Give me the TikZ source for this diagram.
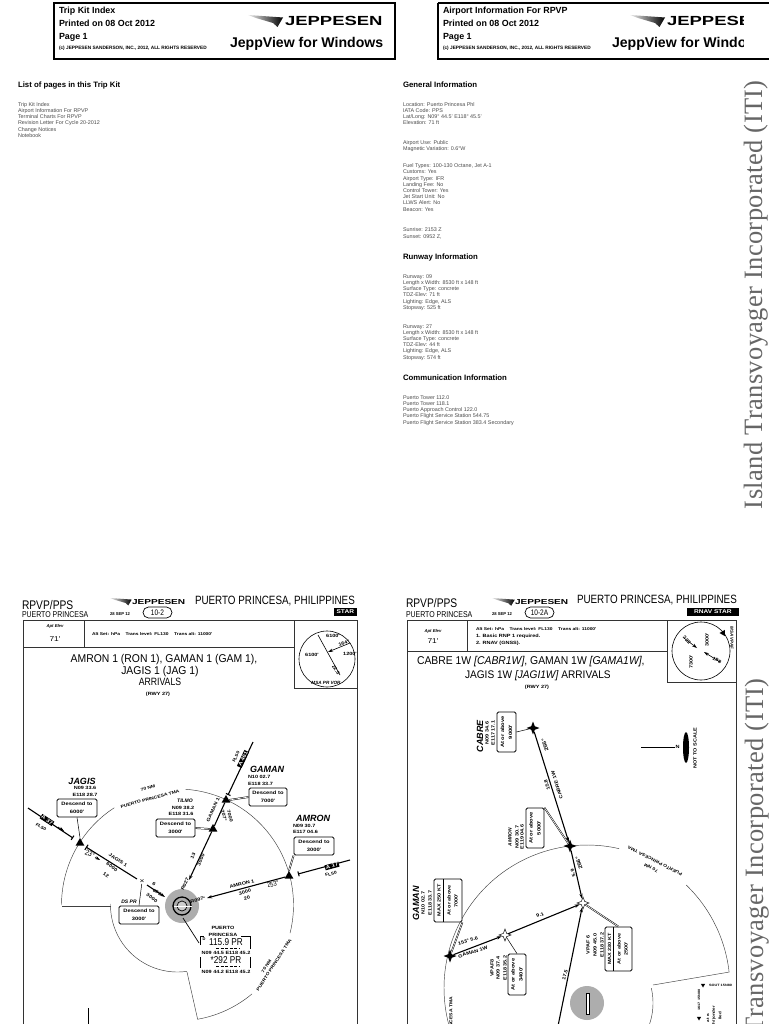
\documentclass[tikz,border=0pt]{standalone}
\usepackage{fontspec}
\usetikzlibrary{shapes.geometric,shapes.misc,arrows.meta}
\setmainfont{Liberation Sans}
\newfontfamily\serf[LetterSpace=1.4]{Liberation Serif}
\newfontfamily\narrowf[FakeStretch=0.82]{Liberation Sans}
\newfontfamily\titlef[FakeStretch=0.92]{Liberation Sans}
\newfontfamily\widef[FakeStretch=1.2]{Liberation Sans}
\newfontfamily\jepf[FakeStretch=1.4]{Liberation Sans}
\newcommand\F[1]{\fontsize{#1}{#1}\selectfont}
\definecolor{bodyg}{gray}{0.3}
\definecolor{sideg}{gray}{0.4}
\definecolor{vorg}{gray}{0.68}
\tikzset{
  txt/.style={inner sep=0pt,outer sep=0pt,anchor=base west},
  mid/.style={inner sep=0pt,outer sep=0pt,anchor=center},
  tiny/.style={mid,font=\widef\bfseries\F{4.6}},
  arcl/.style={mid,font=\widef\bfseries\F{4.2}},
  fixn/.style={mid,font=\bfseries\itshape\F{9}},
  rt/.style={line width=1.1pt},
  thinl/.style={line width=0.45pt,draw=black!75},
  frame/.style={line width=0.9pt,draw=black!80},
  tri/.style={regular polygon,regular polygon sides=3,fill=black,inner sep=0pt,minimum size=10pt},
  fixstar/.style={star,star points=4,star point ratio=2.6,fill=black,inner sep=0pt,minimum size=13pt},
  wpt/.style={star,star points=4,star point ratio=2.6,draw=black,fill=white,inner sep=0pt,minimum size=12pt,line width=.5pt},
  dbox/.style={draw=black,line width=.8pt,rounded corners=1.5pt,fill=white,inner sep=0pt,align=center,font=\widef\bfseries\fontsize{4.8}{8}\selectfont},
  airw/.style={fill=black,text=white,inner sep=.8pt,font=\widef\bfseries\F{5}},
  head/.style={line width=1.7pt,draw=black},
  arr/.style={-{Stealth[length=5pt,width=3.2pt]}},
  barr/.style={{Bar[width=6pt,length=.6pt]}-},
  hb/.style={txt,font=\bfseries\F{8.9}},
  sh/.style={txt,font=\bfseries\F{7.8}},
  sw/.style={left color=gray!15,right color=black,draw=none},
}
\newcommand\swoosh[3]{%
  \begin{scope}[shift={(#1,#2)},scale=#3]
    \shade[sw] (0,0) -- (35,2.5) -- (29.5,12) -- (25,8) -- (8,3) -- cycle;
  \end{scope}}
\begin{document}
\begin{tikzpicture}[x=1pt,y=-1pt]
\useasboundingbox (0,0) rectangle (768,1024);
\fill[white] (0,0) rectangle (768,1024);

%%% ---- top left page
\draw[head] (54,3) rectangle (395,59);
\node[hb] (a1) at (59,14) {Trip Kit Index};
\node[hb] (a2) at (59,27) {Printed on 08 Oct 2012};
\node[hb] (a3) at (59,40) {Page 1};
\node[txt,font=\bfseries\F{4.75}] (a4) at (59,49.5) {(c) JEPPESEN SANDERSON, INC., 2012, ALL RIGHTS RESERVED};
\swoosh{248}{15}{1}
\node[txt,font=\jepf\bfseries\F{13.2}] (a5) at (285,26) {JEPPESEN};
\node[txt,font=\bfseries\F{14.1}] (a6) at (230,47.5) {JeppView for Windows};
\node[sh] (a7) at (18,88) {List of pages in this Trip Kit};
\foreach \t/\y [count=\i] in {Trip Kit Index/107,Airport Information For RPVP/113,Terminal Charts For RPVP/119,Revision Letter For Cycle 20-2012/125,Change Notices/131.5,Notebook/138}
  \node[txt,text=bodyg,font=\F{5.4}] (li\i) at (18,\y) {\t};

%%% ---- top right page
\draw[head] (438,3) -- (770,3) (438,3) -- (438,59) -- (770,59);
\node[hb] (b1) at (443,14) {Airport Information For RPVP};
\node[hb] (b2) at (443,27) {Printed on 08 Oct 2012};
\node[hb] (b3) at (443,40) {Page 1};
\node[txt,font=\bfseries\F{4.75}] (b4) at (443,49.5) {(c) JEPPESEN SANDERSON, INC., 2012, ALL RIGHTS RESERVED};
\begin{scope}
  \clip (440,5) rectangle (743,57);
  \swoosh{630}{15}{1}
  \node[txt,font=\jepf\bfseries\F{13.2}] (b5) at (667,26) {JEPPESEN};
  \node[txt,font=\bfseries\F{14.1}] (b6) at (612,47.5) {JeppView for Windows};
\end{scope}
\node[sh] (g0) at (403,88) {General Information};
\node[sh] (g1) at (403,259) {Runway Information};
\node[sh] (g2) at (403,380) {Communication Information};
\foreach \t/\y [count=\i] in {{Location: Puerto Princesa Phl}/107,IATA Code: PPS/113,{Lat/Long: N09° 44.5' E118° 45.5'}/119,Elevation: 71 ft/125,
 Airport Use: Public/145,Magnetic Variation: 0.6°W/151,
 {Fuel Types: 100-130 Octane, Jet A-1}/168,Customs: Yes/174,Airport Type: IFR/181,Landing Fee: No/187,Control Tower: Yes/193,Jet Start Unit: No/199,LLWS Alert: No/205,Beacon: Yes/212,
 Sunrise: 2153 Z/232,{Sunset: 0952 Z,}/238,
 Runway: 09/278,Length x Width: 8530 ft x 148 ft/284,Surface Type: concrete/290.5,TDZ-Elev: 71 ft/296.5,{Lighting: Edge, ALS}/303,Stopway: 525 ft/309,
 Runway: 27/328,Length x Width: 8530 ft x 148 ft/334,Surface Type: concrete/340,TDZ-Elev: 44 ft/346,{Lighting: Edge, ALS}/352.5,Stopway: 574 ft/359,
 Puerto Tower 112.0/399,Puerto Tower 118.1/405,Puerto Approach Control 122.0/411,Puerto Flight Service Station 544.75/417,Puerto Flight Service Station 383.4 Secondary/424}
  \node[txt,text=bodyg,font=\F{5.4}] (gi\i) at (403,\y) {\t};

%%% ---- side text
\node[inner sep=0pt,anchor=base east,rotate=90,text=sideg,font=\serf\F{26.5}] (s1) at (762,80) {Island Transvoyager Incorporated (ITI)};
\node[inner sep=0pt,anchor=base east,rotate=90,text=sideg,font=\serf\F{26.5}] (s2) at (763,678) {Transvoyager Incorporated (ITI)};

%%% ---- lower left chart: header
\node[txt,font=\narrowf\F{12.5}] (c1) at (22,609) {RPVP/PPS};
\node[txt,font=\narrowf\F{8.5}] (c2) at (22,617) {PUERTO PRINCESA};
\swoosh{110}{598}{.62}
\node[txt,font=\jepf\bfseries\F{7.2}] (c3) at (132,604) {JEPPESEN};
\node[txt,font=\narrowf\F{12}] (c4) at (195,604) {PUERTO PRINCESA, PHILIPPINES};
\node[txt,font=\bfseries\F{4.2}] (c5) at (110,615) {28 SEP 12};
\node[draw=black,line width=.7pt,rounded rectangle,inner sep=0pt,minimum width=29pt,minimum height=11pt,font=\narrowf\F{8}] (c6) at (157.5,612.5) {10-2};
\node[anchor=east,fill=black,text=white,inner sep=0pt,minimum width=23pt,minimum height=8pt,font=\widef\bfseries\F{5.5}] (c7) at (357,612) {STAR};
% frame
\draw[frame] (23.5,1026) -- (23.5,620) -- (357,620) -- (357,1026);
\draw[frame] (23.5,647) -- (294,647) (84,620) -- (84,647) (294,620) -- (294,688) -- (357,688);
\node[mid,font=\bfseries\itshape\F{4.2}] (c8) at (55,626) {Apt Elev};
\node[mid,font=\widef\F{7}] (c9) at (55,639) {71'};
\node[txt,font=\widef\bfseries\F{4.1}] (c10) at (92,635) {Alt Set: hPa \quad Trans level: FL130 \quad Trans alt: 11000'};
\node[txt,anchor=base,font=\titlef\F{11.3}] (c11) at (164,662) {AMRON 1 (RON 1), GAMAN 1 (GAM 1),};
\node[txt,anchor=base,font=\titlef\F{11.3}] (c12) at (160,674.5) {JAGIS 1 (JAG 1)};
\node[txt,anchor=base,font=\narrowf\F{10.6}] (c13) at (160,685) {ARRIVALS};
\node[mid,font=\widef\bfseries\F{4.6}] (c14) at (158,694) {(RWY 27)};
% MSA left
\node[circle,draw=black,line width=.6pt,minimum size=56pt,inner sep=0pt] (m0) at (327,659) {};
\coordinate (m1) at (318,635);\coordinate (m2) at (340,675);\coordinate (m3) at (350,643);\coordinate (m4) at (328,652);
\draw[line width=.6pt] (m1) -- (m2);
\draw[line width=.6pt,arr] (m3) -- (m4);
\node[tiny] (m5) at (333,636) {6100'};
\node[tiny,rotate=18] (m6) at (344,643) {164°};
\node[tiny] (m7) at (312,655) {6100'};
\node[tiny] (m8) at (350,654) {1200'};
\node[tiny,rotate=-60] (m9) at (336,670) {22.5};
\node[mid,font=\bfseries\itshape\F{4.6}] (m10) at (326,683) {MSA PR VOR};

%%% ---- lower left chart: plan
\draw[thinl] plot[domain=180:237,samples=40] ({177.5+116*cos(\x)},{905+116*sin(\x)});
\draw[thinl] plot[domain=274:374,samples=70] ({177.5+116*cos(\x)},{905+116*sin(\x)});
\draw[thinl] plot[domain=410:440,samples=25] ({177.5+116*cos(\x)},{905+116*sin(\x)}) -- (187,972)
  plot[domain=82:181,samples=60] ({177.5+67*cos(\x)},{905+67*sin(\x)});
\draw[thinl,line width=.6pt] (111,906.5) -- (62,906.5);
\node[arcl,rotate=14] (t1) at (148,788) {70 NM};
\node[arcl,rotate=14.7] (t2) at (150,799) {PUERTO PRINCESA TMA};
\node[arcl,rotate=57] (t3) at (266.5,966) {70 NM};
\node[arcl,rotate=57] (t4) at (274,965) {PUERTO PRINCESA TMA};
\node[circle,fill=vorg,minimum size=34pt,inner sep=0pt] (vor) at (182,906) {};
\node[circle,draw=black,line width=1.3pt,minimum size=18pt,inner sep=0pt] (vr) at (182,906) {};
\node[circle,draw=black,line width=.7pt,fill=vorg!60,minimum size=10pt,inner sep=0pt] (vi) at (182,906) {};
\coordinate (vr1) at (174,906);\coordinate (vr2) at (192,906);
\draw[white,line width=.7pt] (vr1) -- (vr2);
% fixes
\node[tri] (jag) at (80,843) {};
\node[tri] (gam) at (226,800) {};
\node[tri] (til) at (213,829) {};
\node[tri] (amr) at (289,876) {};
\node[mid,font=\widef\F{7},inner sep=0pt] (dsp) at (142,882) {×};
\coordinate (j0) at (28,808);\coordinate (j1) at (73,838);\coordinate (j2) at (86,847);\coordinate (j3) at (137,879);\coordinate (j4) at (147,885);\coordinate (j5) at (165,897);
\draw[rt,-{Bar[width=5pt,length=.6pt]}] (j0) -- (j1);
\draw[rt,barr] (j2) -- (j3);
\draw[rt,arr] (j4) -- (j5);
\coordinate (jm) at (64,831);\coordinate (jm0) at (58,827);
\draw[arr,line width=.7pt] (jm0) -- (jm);
\coordinate (g0a) at (253,742);\coordinate (g0b) at (228,795);\coordinate (gv) at (189,880);
\draw[rt,-{Bar[width=5pt,length=.6pt]}] (g0a) -- (g0b);
\draw[rt] (gam) -- (til);
\draw[rt,arr] (til) -- (gv);
\coordinate (a0) at (350,860);\coordinate (a1e) at (298,874);\coordinate (a2e) at (207,898);
\draw[rt,-{Bar[width=5pt,length=.6pt]}] (a0) -- (a1e);
\draw[rt,arr] (amr) -- (a2e);
\coordinate (vp) at (183,918);\coordinate (vq) at (199,943);
\draw[line width=.7pt] (vp) -- (vq);
\coordinate (low1) at (88,1008);\coordinate (low2) at (88,1026);
\draw[line width=.8pt] (low1) -- (low2);
\node[airw,rotate=-33] (aw1) at (47,820) {A 37};
\node[mid,font=\widef\bfseries\F{4.2},rotate=-33] (aw1b) at (41,827) {FL50};
\node[airw,rotate=65] (aw2) at (243,759) {A 461};
\node[mid,font=\widef\bfseries\F{4.2},rotate=65] (aw2b) at (236,757) {FL50};
\node[airw,rotate=15] (aw3) at (332,866) {A 17};
\node[mid,font=\widef\bfseries\F{4.2},rotate=15] (aw3b) at (331,874) {FL50};
% labels
\node[fixn] (jn) at (82,781) {JAGIS};
\node[tiny] (jc1) at (85,788) {N09 33.6};
\node[tiny] (jc2) at (85,795) {E118 28.7};
\node[dbox,minimum width=40pt,minimum height=18pt] (jb) at (77,808) {Descend to\\6000'};
\draw[line width=.5pt] (jb.south) -- (jag.north);
\node[fixn] (gn) at (267,769) {GAMAN};
\node[txt,font=\widef\bfseries\F{4.6}] (gc1) at (248,778) {N10 02.7};
\node[txt,font=\widef\bfseries\F{4.6}] (gc2) at (248,785) {E118 33.7};
\node[dbox,minimum width=38pt,minimum height=18pt] (gb) at (268,797) {Descend to\\7000'};
\draw[line width=.5pt,double,double distance=.7pt] (gb.west) -- (gam.east);
\node[mid,font=\bfseries\itshape\F{5}] (tn) at (185,801) {TILMO};
\node[tiny] (tc1) at (183,807.5) {N09 38.2};
\node[tiny] (tc2) at (181,814) {E118 31.6};
\node[dbox,minimum width=39pt,minimum height=18pt] (tb) at (175.5,828) {Descend to\\3000'};
\draw[line width=.5pt,double,double distance=.7pt] (tb.east) -- (til.west);
\node[fixn] (an) at (313,818) {AMRON};
\node[txt,font=\widef\bfseries\F{4.6}] (ac1) at (293,827) {N09 30.7};
\node[txt,font=\widef\bfseries\F{4.6}] (ac2) at (293,833) {E117 04.6};
\node[dbox,minimum width=40pt,minimum height=18pt] (ab) at (314,846) {Descend to\\3000'};
\draw[line width=.5pt,double,double distance=.7pt] (ab.south west) -- (amr.north);
\node[mid,font=\bfseries\itshape\F{5}] (dn) at (129,902) {DS PR};
\node[dbox,minimum width=40pt,minimum height=18pt] (db) at (139,915) {Descend to\\3000'};
\draw[line width=.5pt] (db.north) -- (dsp);
\node[mid,font=\narrowf\F{8},rotate=-25] (l1) at (90,854) {23°};
\coordinate (l1a) at (95,857);\coordinate (l1b) at (100,860);
\draw[arr,line width=.5pt] (l1a) -- (l1b);
\node[tiny,rotate=-33] (l2) at (118,860) {JAGIS 1};
\node[tiny,rotate=-33] (l3) at (112,867) {6000};
\node[tiny,rotate=-33] (l4) at (106,875) {12};
\node[tiny,rotate=-33] (l5) at (154,884) {6};
\node[tiny,rotate=-33] (l6) at (158,893) {093°};
\node[tiny,rotate=-33] (l7) at (152,898) {3000};
\node[tiny,rotate=65] (l8) at (213,810) {GAMAN 1};
\node[tiny,rotate=-75] (l9) at (224,816) {207°};
\node[tiny,rotate=-75] (l10) at (230,816) {7000};
\node[tiny,rotate=65] (l11) at (193,856) {13};
\node[tiny,rotate=65] (l12) at (201,860) {3000};
\node[tiny,rotate=65] (l13) at (185,884) {R027};
\node[tiny,rotate=15] (l14) at (242,884) {AMRON 1};
\node[tiny,rotate=15] (l15) at (245,892) {3000};
\node[tiny,rotate=15] (l16) at (247,898) {20};
\node[mid,font=\narrowf\F{7},rotate=15] (l17) at (273,884) {253°};
\node[tiny,rotate=15] (l18) at (198,900) {R097°};
% frequency box
\node[tiny] (f1) at (223,928) {PUERTO};
\node[tiny] (f2) at (223,934.5) {PRINCESA};
\coordinate (fa) at (200,945);\coordinate (fb) at (200,936);\coordinate (fc) at (204,936);\coordinate (fd) at (241,936);\coordinate (fe) at (250,936);\coordinate (ff) at (250,949);
\draw[line width=.7pt] (fa) -- (fb) -- (fc) (fd) -- (fe) -- (ff);
\coordinate (ga) at (200,957);\coordinate (gb2) at (200,968);\coordinate (gc) at (250,957);\coordinate (gd) at (250,968);
\draw[line width=.7pt] (ga) -- (gb2) (gc) -- (gd);
\node[mid,font=\narrowf\F{10}] (f3) at (226,942) {115.9 PR};
\node[mid,font=\bfseries\F{4}] (f3b) at (204,939) {D};
\coordinate (dd1) at (216,948);\coordinate (dd2) at (240,948);\coordinate (dd3) at (216,966);\coordinate (dd4) at (240,966);
\draw[line width=.4pt,dash pattern=on 3pt off 1.5pt] (dd1) -- (dd2) (dd3) -- (dd4);
\node[tiny] (f4) at (226,953) {N09 44.5 E118 45.2};
\node[mid,font=\narrowf\F{10}] (f5) at (226,960.5) {*292 PR};
\node[tiny] (f6) at (226,971.5) {N09 44.2 E118 45.2};

%%% ---- lower right chart: header
\node[txt,font=\narrowf\F{12.5}] (d1) at (406,607) {RPVP/PPS};
\node[txt,font=\narrowf\F{8.5}] (d2) at (406,617) {PUERTO PRINCESA};
\swoosh{492}{598}{.65}
\node[txt,font=\jepf\bfseries\F{7.2}] (d3) at (515,604) {JEPPESEN};
\node[txt,font=\narrowf\F{12}] (d4) at (577,603) {PUERTO PRINCESA, PHILIPPINES};
\node[txt,font=\bfseries\F{4.2}] (d5) at (492,615) {28 SEP 12};
\node[draw=black,line width=.7pt,rounded rectangle,inner sep=0pt,minimum width=29pt,minimum height=11pt,font=\narrowf\F{8}] (d6) at (539.5,612.5) {10-2A};
\node[anchor=east,fill=black,text=white,inner sep=0pt,minimum width=52pt,minimum height=8pt,font=\widef\bfseries\F{5.5}] (d7) at (739,612) {RNAV STAR};
\draw[frame] (407,1026) -- (407,620) -- (736,620) -- (736,1026);
\draw[frame] (407,651) -- (667,651) (467,620) -- (467,651) (667,620) -- (667,682) -- (736,682);
\node[mid,font=\bfseries\itshape\F{4.2}] (d8) at (433,631) {Apt Elev};
\node[mid,font=\widef\F{7}] (d9) at (433,641) {71'};
\node[txt,font=\widef\bfseries\F{4.1}] (d10) at (476,630) {Alt Set: hPa \quad Trans level: FL130 \quad Trans alt: 11000'};
\node[txt,font=\widef\bfseries\F{4.6}] (d11) at (476,637) {1. Basic RNP 1 required.};
\node[txt,font=\widef\bfseries\F{4.6}] (d12) at (476,644) {2. RNAV (GNSS).};
\node[txt,font=\titlef\F{11.3}] (d13) at (417,664) {CABRE 1W \textit{[CABR1W]}, GAMAN 1W \textit{[GAMA1W]},};
\node[txt,font=\titlef\F{11}] (d14) at (465,678) {JAGIS 1W \textit{[JAGI1W]} ARRIVALS};
\node[mid,font=\widef\bfseries\F{4.6}] (d15) at (537,687) {(RWY 27)};
% MSA right
\node[circle,draw=black,line width=.6pt,minimum size=58pt,inner sep=0pt] (n0) at (701,651) {};
\coordinate (n1) at (684,638);\coordinate (n2) at (697,648);\coordinate (n3) at (720,662);\coordinate (n4) at (704,652);
\draw[line width=.6pt,arr] (n1) -- (n2);
\draw[line width=.6pt,arr] (n3) -- (n4);
\node[regular polygon,regular polygon sides=3,fill=black,inner sep=0pt,minimum size=7pt,rotate=-30] (n5) at (723,633) {};
\node[tiny,rotate=-45] (n6) at (687,640) {222};
\node[tiny,rotate=90] (n7) at (707,640) {3000'};
\node[tiny,rotate=90] (n8) at (691,662) {7300'};
\node[tiny,rotate=-30] (n9) at (717,660) {198};
\node[mid,font=\bfseries\itshape\F{4.4},rotate=270] (n10) at (732,638) {MSA VPAF};

%%% ---- lower right chart: plan
\draw[thinl] plot[domain=160:283,samples=80] ({587+143*cos(\x)},{988+143*sin(\x)});
\draw[thinl] plot[domain=314:353.6,samples=30] ({587+143*cos(\x)},{988+143*sin(\x)}) -- (653,985)
  plot[domain=-13:25,samples=20] ({587+66*cos(\x)},{1003+66*sin(\x)});
\node[circle,fill=vorg,minimum size=34pt,inner sep=0pt] (rv) at (587,1003) {};
\node[draw=black,fill=white,line width=.4pt,minimum width=3pt,minimum height=21pt,inner sep=0pt] (rvb) at (588,1004) {};
\node[arcl,rotate=153] (u1) at (655,861) {PUERTO PRINCESA TMA};
\node[arcl,rotate=153] (u4) at (651,868) {70 NM};
\node[arcl,rotate=90,anchor=east] (u5) at (451,997) {PRINCESA TMA};
\node[fixstar] (cab) at (533,728) {};
\node[fixstar] (amr2) at (570,846) {};
\node[fixstar] (gam2) at (450,956) {};
\node[wpt] (p1) at (583,903) {};
\node[wpt] (p2) at (505,935) {};
\coordinate (z1) at (558,1026);
\draw[rt,arr] (cab) -- (amr2);
\draw[rt,arr] (amr2) -- (p1);
\draw[rt,arr] (gam2) -- (p2);
\draw[rt,arr] (p2) -- (p1);
\draw[rt,arr] (z1) -- (p1);
% CABRE
\node[fixn,rotate=90] (cn) at (480,736) {CABRE};
\node[tiny,rotate=90] (cc1) at (487,733) {N09 34.6};
\node[tiny,rotate=90] (cc2) at (493,733) {E117 17.1};
\node[dbox,rotate=90,minimum width=40pt,minimum height=19pt] (cb) at (506.5,732) {At or above\\9000'};
\draw[line width=.5pt] (cb.south) -- (cab);
% north arrow
\coordinate (na) at (641,747);\coordinate (nb) at (675,747);
\draw[line width=.7pt] (na) -- (nb);
\node[tiny] (nn) at (677.5,747) {N};
\node[fill=black,ellipse,minimum width=6pt,minimum height=31pt,inner sep=0pt] (ns) at (686,747.5) {};
\node[tiny,rotate=90] (nt) at (695,748) {NOT TO SCALE};
% route labels
\node[tiny,rotate=107] (r1) at (557,785) {CABRE 1W};
\node[tiny,rotate=107] (r2) at (547,785) {15.8};
\node[mid,font=\widef\bfseries\F{5.2},rotate=107] (r3) at (545,745) {255°};
% AMRON
\node[mid,font=\bfseries\itshape\F{4.8},rotate=90] (an2) at (510,837) {AMRON};
\node[tiny,rotate=90] (ac3) at (517,837) {N09 30.7};
\node[tiny,rotate=90] (ac4) at (522,837) {E119 04.6};
\node[dbox,rotate=90,minimum width=40pt,minimum height=18pt] (ab2) at (535,828) {At or above\\5000'};
\draw[line width=.5pt,double,double distance=.6pt] (ab2.south east) -- (amr2);
\node[tiny,rotate=107] (r4) at (573,873) {5.9};
\node[mid,font=\widef\bfseries\F{5.2},rotate=107] (r5) at (579,863) {256°};
% VPAF6
\node[tiny,rotate=90] (v1) at (588,945) {VPAF 6};
\node[tiny,rotate=90] (v2) at (595,945) {N09 45.0};
\node[tiny,rotate=90] (v3) at (602,945) {E118 37.2};
\node[dbox,rotate=90,minimum width=44pt,minimum height=27pt] (vb) at (618.5,949) {};
\coordinate (vd1) at (613.5,927);\coordinate (vd2) at (613.5,971);
\draw[line width=.7pt] (vd1) -- (vd2);
\node[tiny,rotate=90] (vt1) at (609.5,949) {MAX 230 KT};
\node[mid,rotate=90,align=center,font=\widef\bfseries\fontsize{4.6}{7}\selectfont] (vt2) at (622.5,949) {At or above\\2500'};
\draw[line width=.5pt,double,double distance=.6pt] (vb.east) -- (p1);
% GAMAN
\node[fixn,rotate=90] (gn2) at (416,903) {GAMAN};
\node[tiny,rotate=90] (gc3) at (423,903) {N10 02.7};
\node[tiny,rotate=90] (gc4) at (430,903) {E118 33.7};
\node[dbox,rotate=90,minimum width=43pt,minimum height=28pt] (gb3) at (448,900.5) {};
\coordinate (gd1) at (443,879);\coordinate (gd2) at (443,922);
\draw[line width=.7pt] (gd1) -- (gd2);
\node[tiny,rotate=90] (gt1) at (439,900.5) {MAX 250 KT};
\node[mid,rotate=90,align=center,font=\widef\bfseries\fontsize{4.6}{7}\selectfont] (gt2) at (452.5,900.5) {At or above\\7000'};
\draw[line width=.5pt,double,double distance=.6pt] (gb3.south west) -- (gam2);
\node[tiny,rotate=18] (r6) at (468,941) {153° 5.6};
\node[tiny,rotate=18] (r7) at (473,952) {GAMAN 1W};
\node[tiny,rotate=20] (r8) at (540,915) {9.1};
% VPAF8
\node[tiny,rotate=90] (w1) at (492,968) {VPAF8};
\node[tiny,rotate=90] (w2) at (498,968) {N09 37.4};
\node[tiny,rotate=90] (w3) at (505,968) {E118 35.2};
\node[dbox,rotate=90,minimum width=41pt,minimum height=18pt] (wb) at (517,974.5) {At or above\\3400'};
\draw[line width=.5pt] (wb.east) -- (p2);
\node[tiny,rotate=75] (r9) at (565,975) {17.5};
% lower-right notes
\node[regular polygon,regular polygon sides=3,fill=black,inner sep=0pt,minimum size=5pt,rotate=180] (x1) at (703,985) {};
\node[txt,font=\widef\bfseries\F{3.2}] (x2) at (709,986) {SOUT 15N80};
\node[mid,font=\widef\bfseries\F{3.2},rotate=90] (x3) at (699,1000) {1617 15N80};
\node[regular polygon,regular polygon sides=3,fill=black,inner sep=0pt,minimum size=5pt,rotate=180] (x4) at (699,1018) {};
\node[mid,font=\widef\bfseries\F{3.8},rotate=90,anchor=east] (x5) at (708,1013) {at e.};
\node[mid,font=\widef\bfseries\F{3.8},rotate=90,anchor=east] (x6) at (714,1006) {h/jonder};
\node[mid,font=\widef\bfseries\F{3.8},rotate=90,anchor=east] (x7) at (720,1012) {lled};
\end{tikzpicture}
\end{document}
